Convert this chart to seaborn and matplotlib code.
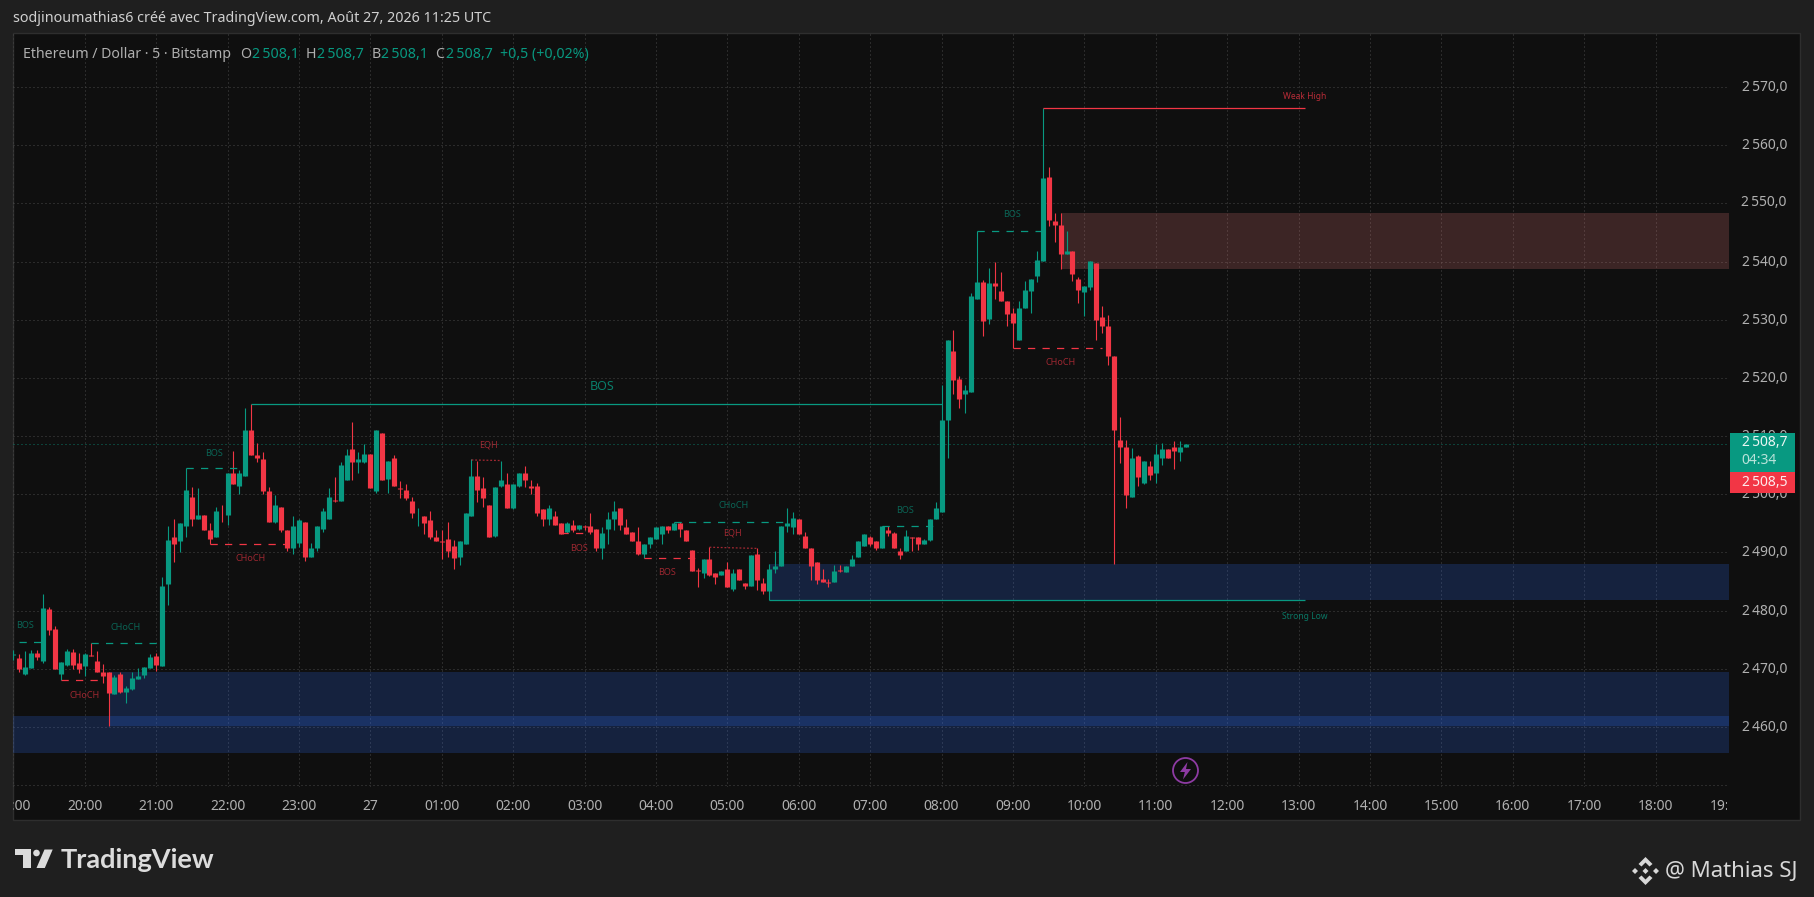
import pandas as pd
import matplotlib
matplotlib.use("Agg")
import matplotlib.pyplot as plt
from matplotlib.patches import Rectangle, Polygon, Circle
from matplotlib.transforms import ScaledTranslation
import seaborn as sns

W, H = 1814, 897

# ---- candles, one line per hour (5 min bars), first bar is 19:00 ----
opens = [
    2472.4, 2471.9, 2469.2, 2470.2, 2472.8, 2471.4, 2480.3, 2476.9, 2469.2, 2470.7, 2472.9, 2471.0,
    2470.5, 2472.4, 2471.4, 2469.5, 2469.5, 2465.7, 2469.2, 2466.1, 2466.6, 2468.3, 2469.0, 2470.2,
    2472.2, 2470.5, 2484.6, 2492.6, 2492.0, 2494.6, 2499.6, 2495.8, 2496.5, 2493.9, 2492.6, 2496.8,
    2496.5, 2503.6, 2501.5, 2503.1, 2511.1, 2506.8, 2506.0, 2500.6, 2495.3, 2497.9, 2493.9, 2490.8,
    2491.7, 2495.3, 2489.3, 2490.7, 2494.1, 2495.8, 2499.1, 2498.8, 2502.5, 2507.7, 2505.5, 2505.5,
    2507.0, 2500.5, 2510.5, 2502.7, 2506.2, 2501.1, 2500.8, 2498.9, 2496.7, 2496.2, 2495.5, 2492.7,
    2491.9, 2492.4, 2491.2, 2489.3, 2491.5, 2496.3, 2503.2, 2501.0, 2498.2, 2492.9, 2501.5, 2501.7,
    2497.7, 2501.5, 2503.6, 2501.5, 2501.5, 2497.4, 2495.7, 2496.3, 2495.0, 2493.6, 2494.8, 2494.1,
    2494.6, 2494.5, 2494.1, 2490.8, 2494.1, 2495.7, 2497.6, 2494.3, 2493.6, 2492.0, 2489.8, 2491.4,
    2492.4, 2493.2, 2494.5, 2493.8, 2495.1, 2493.8, 2490.5, 2487.0, 2486.4, 2488.8, 2486.4, 2486.2,
    2487.2, 2483.8, 2487.1, 2484.8, 2484.3, 2489.8, 2484.8, 2483.4, 2487.2, 2487.6, 2494.5, 2494.3,
    2495.7, 2492.8, 2490.8, 2488.3, 2485.5, 2484.9, 2485.0, 2487.0, 2486.7, 2487.7, 2489.3, 2491.2,
    2492.6, 2491.9, 2490.8, 2493.9, 2493.4, 2490.3, 2490.3, 2492.6, 2492.6, 2491.5, 2492.2, 2495.7,
    2497.0, 2512.7, 2524.7, 2519.8, 2517.2, 2517.5, 2533.5, 2536.5, 2530.1, 2536.3, 2534.9, 2533.2,
    2531.1, 2526.6, 2532.1, 2534.9, 2537.5, 2540.1, 2554.5, 2546.9, 2546.3, 2541.3, 2541.8, 2537.0,
    2534.7, 2535.6, 2539.7, 2530.4, 2528.9, 2523.7, 2509.3, 2508.2, 2499.6, 2506.5, 2501.9, 2504.8,
    2503.6, 2506.3, 2507.7, 2508.2, 2507.2, 2508.1,
]
highs = [
    2473.3, 2472.5, 2473.1, 2473.3, 2473.2, 2482.9, 2480.7, 2477.4, 2471.2, 2473.5, 2473.5, 2472.8,
    2472.8, 2474.4, 2473.1, 2470.9, 2469.5, 2469.0, 2469.5, 2467.1, 2469.5, 2470.2, 2470.4, 2472.6,
    2472.8, 2485.8, 2494.5, 2495.7, 2495.0, 2504.5, 2501.3, 2501.0, 2496.5, 2495.0, 2497.9, 2498.2,
    2503.6, 2507.4, 2504.1, 2514.9, 2515.6, 2508.9, 2507.2, 2501.3, 2499.8, 2497.9, 2493.9, 2496.3,
    2495.7, 2495.3, 2491.7, 2494.6, 2497.7, 2501.0, 2502.9, 2505.6, 2507.7, 2512.4, 2507.2, 2508.7,
    2507.0, 2511.0, 2510.5, 2505.8, 2506.7, 2502.2, 2501.7, 2499.6, 2497.6, 2496.3, 2497.2, 2493.8,
    2493.9, 2495.3, 2492.2, 2491.9, 2496.7, 2506.0, 2505.8, 2502.9, 2498.2, 2501.3, 2505.8, 2503.7,
    2501.7, 2503.6, 2504.8, 2502.4, 2502.0, 2497.4, 2498.1, 2497.2, 2495.1, 2495.3, 2495.5, 2494.8,
    2494.8, 2496.7, 2494.1, 2494.3, 2497.0, 2498.8, 2497.7, 2495.7, 2493.6, 2494.3, 2491.4, 2492.6,
    2494.3, 2494.5, 2494.5, 2495.3, 2495.2, 2493.8, 2490.5, 2487.4, 2488.8, 2491.0, 2486.5, 2486.9,
    2488.3, 2487.1, 2487.1, 2484.8, 2489.5, 2490.7, 2485.7, 2488.1, 2490.2, 2494.6, 2497.6, 2496.9,
    2495.7, 2493.5, 2490.8, 2488.3, 2487.1, 2485.5, 2487.9, 2487.9, 2487.7, 2489.5, 2492.0, 2493.1,
    2492.9, 2491.9, 2494.6, 2494.6, 2493.6, 2490.7, 2493.8, 2492.7, 2492.6, 2492.4, 2495.7, 2498.6,
    2518.7, 2526.5, 2528.2, 2520.3, 2518.7, 2534.6, 2545.3, 2536.8, 2538.9, 2539.9, 2538.2, 2533.2,
    2532.1, 2533.2, 2536.6, 2537.0, 2541.8, 2566.3, 2556.2, 2548.3, 2548.3, 2545.2, 2541.8, 2537.3,
    2535.8, 2540.1, 2539.7, 2532.3, 2530.8, 2523.7, 2513.2, 2509.3, 2508.0, 2506.8, 2505.8, 2505.8,
    2508.6, 2508.9, 2507.7, 2509.1, 2509.1, 2508.7,
]
lows = [
    2471.6, 2469.4, 2469.0, 2470.2, 2471.6, 2471.0, 2475.9, 2470.0, 2468.1, 2470.5, 2470.0, 2469.3,
    2468.8, 2472.2, 2469.5, 2467.6, 2460.2, 2465.7, 2465.9, 2464.2, 2466.4, 2468.3, 2468.5, 2470.2,
    2469.7, 2470.5, 2480.9, 2488.4, 2490.0, 2492.6, 2494.6, 2495.8, 2493.8, 2491.5, 2492.6, 2495.3,
    2494.8, 2501.7, 2500.1, 2503.1, 2506.7, 2505.5, 2500.0, 2495.3, 2495.1, 2493.6, 2490.2, 2489.8,
    2491.0, 2488.6, 2489.3, 2490.2, 2493.6, 2495.7, 2498.6, 2498.8, 2502.5, 2502.4, 2503.6, 2505.3,
    2501.0, 2500.3, 2502.4, 2500.3, 2501.5, 2499.3, 2499.1, 2496.0, 2494.6, 2493.2, 2492.4, 2491.9,
    2488.8, 2489.3, 2487.2, 2487.9, 2491.5, 2496.3, 2498.6, 2497.9, 2492.7, 2492.7, 2501.3, 2497.7,
    2497.4, 2501.3, 2501.3, 2500.1, 2496.3, 2494.6, 2494.8, 2494.8, 2493.2, 2493.4, 2493.6, 2493.8,
    2493.9, 2493.2, 2490.3, 2488.8, 2491.5, 2493.9, 2493.9, 2493.2, 2491.9, 2489.5, 2489.1, 2490.8,
    2492.4, 2491.4, 2493.4, 2493.8, 2492.6, 2491.9, 2486.9, 2484.1, 2485.7, 2486.0, 2484.5, 2486.2,
    2484.0, 2483.3, 2485.2, 2483.8, 2484.3, 2483.6, 2482.9, 2481.8, 2486.4, 2487.6, 2493.6, 2493.1,
    2493.2, 2490.7, 2485.3, 2484.5, 2485.0, 2484.1, 2485.0, 2486.7, 2486.7, 2487.7, 2489.3, 2491.2,
    2491.2, 2490.5, 2490.8, 2492.9, 2490.8, 2488.8, 2490.3, 2490.3, 2490.5, 2491.5, 2492.0, 2495.7,
    2497.0, 2506.2, 2517.3, 2514.9, 2513.9, 2517.5, 2533.5, 2527.2, 2529.2, 2533.5, 2533.2, 2529.0,
    2525.2, 2526.6, 2532.1, 2531.1, 2536.5, 2540.1, 2546.1, 2543.3, 2538.7, 2541.3, 2536.6, 2532.8,
    2530.6, 2535.1, 2526.6, 2527.8, 2522.3, 2488.1, 2505.3, 2497.6, 2499.6, 2501.5, 2501.7, 2502.4,
    2502.0, 2505.1, 2506.2, 2504.4, 2505.8, 2508.1,
]
closes = [
    2472.6, 2470.0, 2470.4, 2472.8, 2472.1, 2480.5, 2476.6, 2470.0, 2471.2, 2473.1, 2470.7, 2470.0,
    2472.6, 2472.2, 2469.5, 2468.8, 2465.9, 2468.6, 2466.1, 2466.7, 2468.5, 2468.8, 2470.4, 2472.1,
    2470.7, 2484.3, 2492.2, 2491.5, 2495.0, 2500.8, 2495.8, 2496.5, 2493.8, 2492.4, 2497.2, 2496.7,
    2503.6, 2501.7, 2503.7, 2511.1, 2506.7, 2506.2, 2500.5, 2495.3, 2498.1, 2493.8, 2490.8, 2494.6,
    2495.5, 2489.3, 2490.7, 2494.6, 2497.2, 2499.6, 2498.8, 2505.1, 2506.7, 2505.5, 2506.0, 2507.0,
    2501.0, 2511.0, 2502.5, 2505.8, 2501.5, 2500.9, 2499.4, 2496.7, 2496.8, 2495.0, 2492.6, 2491.9,
    2491.8, 2490.2, 2489.1, 2491.9, 2496.7, 2503.2, 2500.8, 2499.4, 2492.7, 2501.3, 2502.4, 2497.7,
    2501.7, 2503.6, 2502.4, 2501.0, 2496.7, 2495.7, 2497.7, 2494.8, 2493.2, 2495.0, 2493.8, 2494.8,
    2494.3, 2493.6, 2490.8, 2493.4, 2495.8, 2497.2, 2494.8, 2493.2, 2491.9, 2489.8, 2491.4, 2492.6,
    2494.3, 2494.5, 2493.8, 2495.1, 2494.1, 2491.9, 2486.9, 2486.8, 2488.8, 2486.2, 2485.8, 2486.9,
    2484.0, 2486.5, 2485.3, 2484.3, 2489.5, 2485.2, 2483.4, 2487.2, 2487.7, 2494.6, 2495.0, 2496.0,
    2493.2, 2490.7, 2487.6, 2485.3, 2485.0, 2484.7, 2486.9, 2486.8, 2487.7, 2488.9, 2491.9, 2493.1,
    2491.5, 2490.8, 2494.6, 2493.4, 2490.8, 2489.5, 2492.9, 2492.5, 2491.5, 2492.2, 2495.7, 2497.6,
    2512.7, 2526.5, 2519.6, 2516.3, 2517.9, 2534.0, 2536.5, 2529.7, 2536.3, 2535.8, 2533.2, 2530.9,
    2529.4, 2532.0, 2535.1, 2537.0, 2540.2, 2554.3, 2547.1, 2546.3, 2541.3, 2541.8, 2537.8, 2535.1,
    2535.8, 2540.1, 2529.9, 2529.0, 2523.7, 2511.1, 2508.2, 2499.8, 2506.3, 2502.9, 2505.8, 2503.4,
    2507.0, 2507.7, 2506.2, 2507.4, 2508.2, 2508.7,
]

# bar numbers are counted from 20:00
FIRST_BAR = -12
hour_labels = ["19:00", "20:00", "21:00", "22:00", "23:00", "27", "01:00", "02:00", "03:00",
               "04:00", "05:00", "06:00", "07:00", "08:00", "09:00", "10:00", "11:00", "12:00",
               "13:00", "14:00", "15:00", "16:00", "17:00", "18:00", "19:00"]
price_ticks = [2460, 2470, 2480, 2490, 2500, 2510, 2520, 2530, 2540, 2550, 2560, 2570]
bold_tick = 2550
last_price = 2508.7

# order blocks: first bar, top, bottom
blue_starts = [4, FIRST_BAR, 115]
blue_tops = [2469.5, 2461.9, 2488.1]
blue_bottoms = [2460.2, 2455.6, 2481.8]
red_start, red_top, red_bottom = 164, 2548.3, 2538.7

# structure lines: price, from bar, to bar, colour key
solid_prices = [2515.6, 2566.3, 2481.8]
solid_from = [28, 161, 115]
solid_to = [144, 205, 205]
solid_kind = ["up", "down", "up"]

dash_prices = [2474.6, 2474.4, 2468.1, 2504.5, 2491.5, 2493.3, 2495.2, 2489.0, 2494.6, 2545.3, 2525.2]
dash_from = [-11, 1, -4, 17, 21, 80, 99, 94, 134, 150, 156]
dash_to = [-7, 13, 3, 27, 34, 85, 118, 103, 143, 161, 171]
dash_kind = ["up", "up", "down", "up", "down", "down", "up", "down", "up", "up", "down"]

eqh_prices = [(2505.9, 2505.8), (2490.9, 2490.7)]
eqh_from = [65, 105]
eqh_to = [70, 113]

label_text = ["BOS", "CHoCH", "CHoCH", "BOS", "CHoCH", "EQH", "BOS", "CHoCH", "EQH", "BOS", "BOS", "BOS", "CHoCH"]
label_bar = [-10.1, 6.8, 0, 21.8, 27.9, 67.9, 83, 109, 108.9, 97.9, 137.8, 155.9, 164]
label_price = [2477.4, 2477.1, 2465.5, 2507.0, 2488.9, 2508.5, 2490.7, 2498.1, 2493.3, 2486.6, 2497.2, 2548.0, 2522.7]
label_kind = ["up", "up", "down", "up", "down", "down", "down", "up", "down", "down", "up", "up", "down"]

GREEN = "#089981"
RED = "#f23645"
COLORS = {"up": GREEN, "down": RED}
BG = "#1f1f1f"
PANEL = "#0f0f0f"
GRID = "#474747"
TEXT = "#b0b0b0"
DOTS = (0, (1, 3))

sns.set_theme(style="dark")
plt.rcParams["font.family"] = ["Noto Sans", "DejaVu Sans"]

bars = pd.DataFrame({"open": opens, "high": highs, "low": lows, "close": closes})
bars["bar"] = range(FIRST_BAR, FIRST_BAR + len(bars))
bars["side"] = ["up" if c >= o else "down" for o, c in zip(opens, closes)]
bars["body_top"] = bars[["open", "close"]].max(axis=1)
bars["body_low"] = bars[["open", "close"]].min(axis=1)

wicks = bars.melt(id_vars=["bar", "side"], value_vars=["low", "high"], value_name="price")
bodies = bars.melt(id_vars=["bar", "side"], value_vars=["body_low", "body_top"], value_name="price")


def px_axes(fig, left, top, right, bottom, **kw):
    return fig.add_axes([left / W, 1 - bottom / H, (right - left) / W, (bottom - top) / H], **kw)


def price_text(v):
    return f"{v:,.1f}".replace(",", "\u202f").replace(".", ",")


fig = plt.figure(figsize=(W / 100, H / 100), dpi=100, facecolor=BG)

# panel behind everything
back = fig.add_axes([0, 0, 1, 1], zorder=0)
back.set_xlim(0, W)
back.set_ylim(H, 0)
back.axis("off")
back.add_patch(Rectangle((13, 33.5), 1787, 787, facecolor=PANEL, edgecolor="#2e2e2e", lw=1))

ax = px_axes(fig, 13.3, 34, 1727, 787, zorder=1, facecolor="none")
XMIN, XMAX = -12, 276
ZONE_END = XMAX + 0.35
ax.set_xlim(XMIN, XMAX)
ax.set_ylim(2449.7, 2579.1)
for s in ax.spines.values():
    s.set_visible(False)

hour_ticks = list(range(XMIN, XMAX + 1, 12))
ax.set_xticks(hour_ticks)
ax.set_xticklabels([])
ax.set_yticks([2450] + price_ticks)
# the bold label is written on its own below
ax.set_yticklabels([""] + ["" if v == bold_tick else price_text(v) for v in price_ticks],
                   color=TEXT, fontsize=10)
ax.yaxis.tick_right()
ax.tick_params(axis="both", length=0)
ax.tick_params(axis="y", pad=10.5)
# labels sit a little above their grid line
lift = ScaledTranslation(0, 1.5 / 100, fig.dpi_scale_trans)
for tick in ax.yaxis.get_major_ticks():
    tick.label2.set_transform(tick.label2.get_transform() + lift)
ax.grid(True, color=GRID, lw=0.72, linestyle=DOTS)
ax.set_axisbelow(True)

for start, top, bottom in zip(blue_starts, blue_tops, blue_bottoms):
    ax.fill_between([start, ZONE_END], bottom, top, color=(50 / 255, 115 / 255, 1), alpha=0.2, lw=0,
                    zorder=1, clip_on=False)
ax.fill_between([red_start, ZONE_END], red_bottom, red_top, color=(245 / 255, 130 / 255, 130 / 255),
                alpha=0.2, lw=0, zorder=1, clip_on=False)

ax.axhline(last_price, color=GREEN, alpha=0.75, lw=0.72, linestyle=DOTS, zorder=1.5)

sns.lineplot(data=wicks, x="bar", y="price", hue="side", units="bar", estimator=None, sort=False,
             palette=COLORS, lw=0.8, legend=False, ax=ax, solid_capstyle="butt")
sns.lineplot(data=bodies, x="bar", y="price", hue="side", units="bar", estimator=None, sort=False,
             palette=COLORS, lw=3.7, legend=False, ax=ax, solid_capstyle="butt")
ax.set_xlabel("")
ax.set_ylabel("")

# structure lines
for p, a, b, k in zip(solid_prices, solid_from, solid_to, solid_kind):
    ax.plot([a, b], [p, p], color=COLORS[k], lw=0.9, zorder=3, solid_capstyle="butt")
for p, a, b, k in zip(dash_prices, dash_from, dash_to, dash_kind):
    ax.plot([a, b], [p, p], color=COLORS[k], lw=0.9, linestyle=(0, (5.8, 5.8)), zorder=3)
for (p0, p1), a, b in zip(eqh_prices, eqh_from, eqh_to):
    ax.plot([a, b], [p0, p1], color=RED, alpha=0.65, lw=0.9, linestyle=(0, (1.5, 1.5)), zorder=3)

for t, x, y, k in zip(label_text, label_bar, label_price, label_kind):
    ax.text(x, y, t, color=COLORS[k], alpha=0.62, fontsize=6.5, ha="center", va="center")
ax.text(87, 2518.5, "BOS", color=GREEN, alpha=0.8, fontsize=9, ha="center", va="center")
ax.text(205, 2568.4, "Weak High", color=RED, alpha=0.75, fontsize=6.1, ha="center", va="center")
ax.text(205, 2479, "Strong Low", color=GREEN, alpha=0.75, fontsize=6.1, ha="center", va="center")

# time scale, its labels are cut at both ends
ax_t = px_axes(fig, 13.3, 787, 1727, 820, zorder=1, facecolor="none", sharex=ax)
ax_t.set_ylim(0, 1)
ax_t.axis("off")
for k, lab in zip(hour_ticks, hour_labels):
    ax_t.text(k, 0.42, lab, color=TEXT, fontsize=10, ha="center", va="center", clip_on=True,
              fontweight="bold" if lab == "27" else "normal")

# everything drawn in picture pixels on top
over = fig.add_axes([0, 0, 1, 1], zorder=2, facecolor="none")
over.set_xlim(0, W)
over.set_ylim(H, 0)
over.axis("off")

over.text(1741, 202, price_text(bold_tick), color=TEXT, fontsize=10, fontweight="bold", va="center")

over.text(13, 18.5, "sodjinoumathias6 créé avec TradingView.com, Août 27, 2026 11:25 UTC",
          color="#d0d0d0", fontsize=10.3, va="center")

over.text(23, 54.5, "Ethereum / Dollar · 5 · Bitstamp", color=TEXT, fontsize=10.2, va="center")
for x, t, c in [(240, "O", TEXT), (252, "2\u202f508,1", GREEN), (306, "H", TEXT), (317, "2\u202f508,7", GREEN),
                (371.5, "B", TEXT), (381, "2\u202f508,1", GREEN), (435.5, "C", TEXT), (445.5, "2\u202f508,7", GREEN),
                (499.5, "+0,5 (+0,02%)", GREEN)]:
    over.text(x, 54.5, t, color=c, fontsize=10.2, va="center")

# price tags
over.add_patch(Rectangle((1730, 433), 65, 39, facecolor=GREEN, lw=0))
over.add_patch(Rectangle((1730, 472), 65, 21, facecolor=RED, lw=0))
over.text(1741.5, 443, "2\u202f508,7", color="#eaf6f3", fontsize=10, va="center")
over.text(1741.5, 461, "04:34", color="#b9e3da", fontsize=10, va="center")
over.text(1741.5, 482.5, "2\u202f508,5", color="#fdeaec", fontsize=10, va="center")

# lightning badge
over.add_patch(Circle((1185.5, 770.5), 12.5, facecolor="none", edgecolor="#8e3ba3", lw=1.3))
over.add_patch(Polygon([(1187.5, 762), (1180, 772), (1184.8, 772), (1183, 779.5), (1191, 769), (1186, 769)],
                       facecolor="#8e3ba3", lw=0))

# TradingView logo
LOGO = "#dcdcdc"
over.add_patch(Polygon([(15.3, 849.5), (30.7, 849.5), (30.7, 868), (23.3, 868), (23.3, 855.5), (15.3, 855.5)],
                       facecolor=LOGO, lw=0))
over.add_patch(Circle((36.5, 853), 3.3, facecolor=LOGO, lw=0))
over.add_patch(Polygon([(44.5, 849.5), (52.7, 849.5), (44.8, 868), (36.5, 868)], facecolor=LOGO, lw=0))
over.text(61, 860, "TradingView", color=LOGO, fontsize=19.5, fontweight="bold", family="Lato", va="center")

# watermark
MARK = "#d8d8d8"
cx, cy = 1645.5, 871
for sign in (1, -1):
    over.add_patch(Polygon([(cx, cy - sign * 14), (cx + 7, cy - sign * 7), (cx + 4, cy - sign * 4.5),
                            (cx, cy - sign * 8.5), (cx - 4, cy - sign * 4.5), (cx - 7, cy - sign * 7)],
                           facecolor=MARK, lw=0))
for dx in (-10.5, 0, 10.5):
    over.add_patch(Polygon([(cx + dx - 3, cy), (cx + dx, cy - 3), (cx + dx + 3, cy), (cx + dx, cy + 3)],
                           facecolor=MARK, lw=0))
over.text(1665, 871.5, "@ Mathias SJ", color=MARK, fontsize=16, va="center")

fig.savefig("out.png", dpi=100, facecolor=BG)
